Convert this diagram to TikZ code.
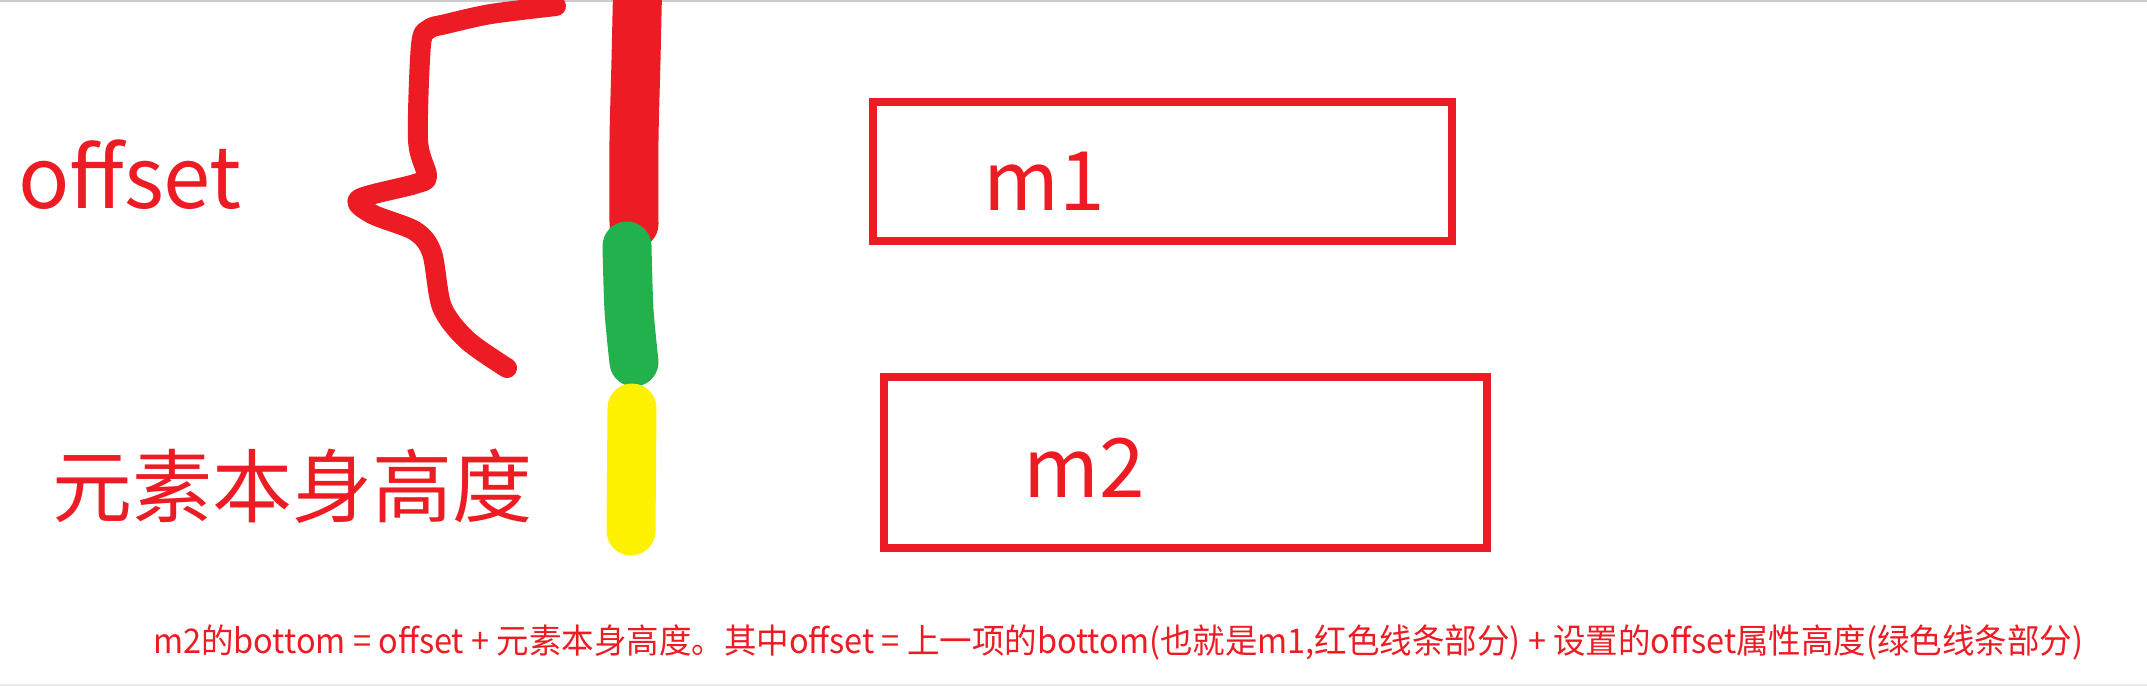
\documentclass[tikz,border=0pt]{standalone}
\usepackage{fontspec}
\usepackage{graphicx}
\setmainfont{Noto Sans CJK SC}
\definecolor{pred}{HTML}{ED1C24}
\definecolor{pgreen}{HTML}{22B14C}
\definecolor{pyellow}{HTML}{FFF200}
\tikzset{
  stroke/.style={line width=#1, line cap=round, line join=round},
  mbox/.style={draw=pred, line width=8pt, inner sep=0pt},
  lbl/.style={text=pred, inner sep=0pt, anchor=base west},
}
\begin{document}
\begin{tikzpicture}[x=1pt,y=-1pt]
\useasboundingbox (0,0) rectangle (2147,686);
\fill[white] (0,0) rectangle (2147,686);
\draw[line width=2pt, black!20] (0,1) -- (2147,1);
\draw[line width=2pt, black!8] (0,685) -- (2147,685);
% brace
\draw[pred, stroke=20pt] plot[smooth, tension=0.5] coordinates {
 (556,6) (491,14) (446,24) (429,29) (421,45) (418,140) (427,176) (415,184)
 (359,199) (372,214) (415,231) (432,253) (442,307) (467,340) (507,368)};
% vertical bars
\draw[pred, stroke=49pt] plot[smooth] coordinates {(638,-30) (636,60) (634,140) (634,224)};
\draw[pgreen, stroke=49pt] plot[smooth] coordinates {(627,246) (629,310) (634,362)};
\draw[pyellow, stroke=49pt] (632,408) -- (631,531);
% boxes
\node[mbox, minimum width=579pt, minimum height=139pt] (m1) at (1162.5,171.5) {};
\node[mbox, minimum width=603pt, minimum height=171pt] (m2) at (1185.5,462.5) {};
\node[lbl, font=\fontsize{82}{90}\selectfont] (m1t) at (983,210) {m1};
\node[lbl, font=\fontsize{82}{90}\selectfont] (m2t) at (1023,497) {m2};
% labels
\node[lbl, font=\fontsize{85}{90}\selectfont] (off) at (18,208) {offset};
\node[lbl, font=\fontsize{80}{90}\selectfont] (h) at (52,516) {元素本身高度};
\node[lbl, font=\fontsize{34}{40}\selectfont] (note) at (153,653) {\resizebox{1930pt}{\height}{m2的bottom = offset + 元素本身高度。其中offset = 上一项的bottom(也就是m1,红色线条部分) + 设置的offset属性高度(绿色线条部分)}};
\end{tikzpicture}
\end{document}
